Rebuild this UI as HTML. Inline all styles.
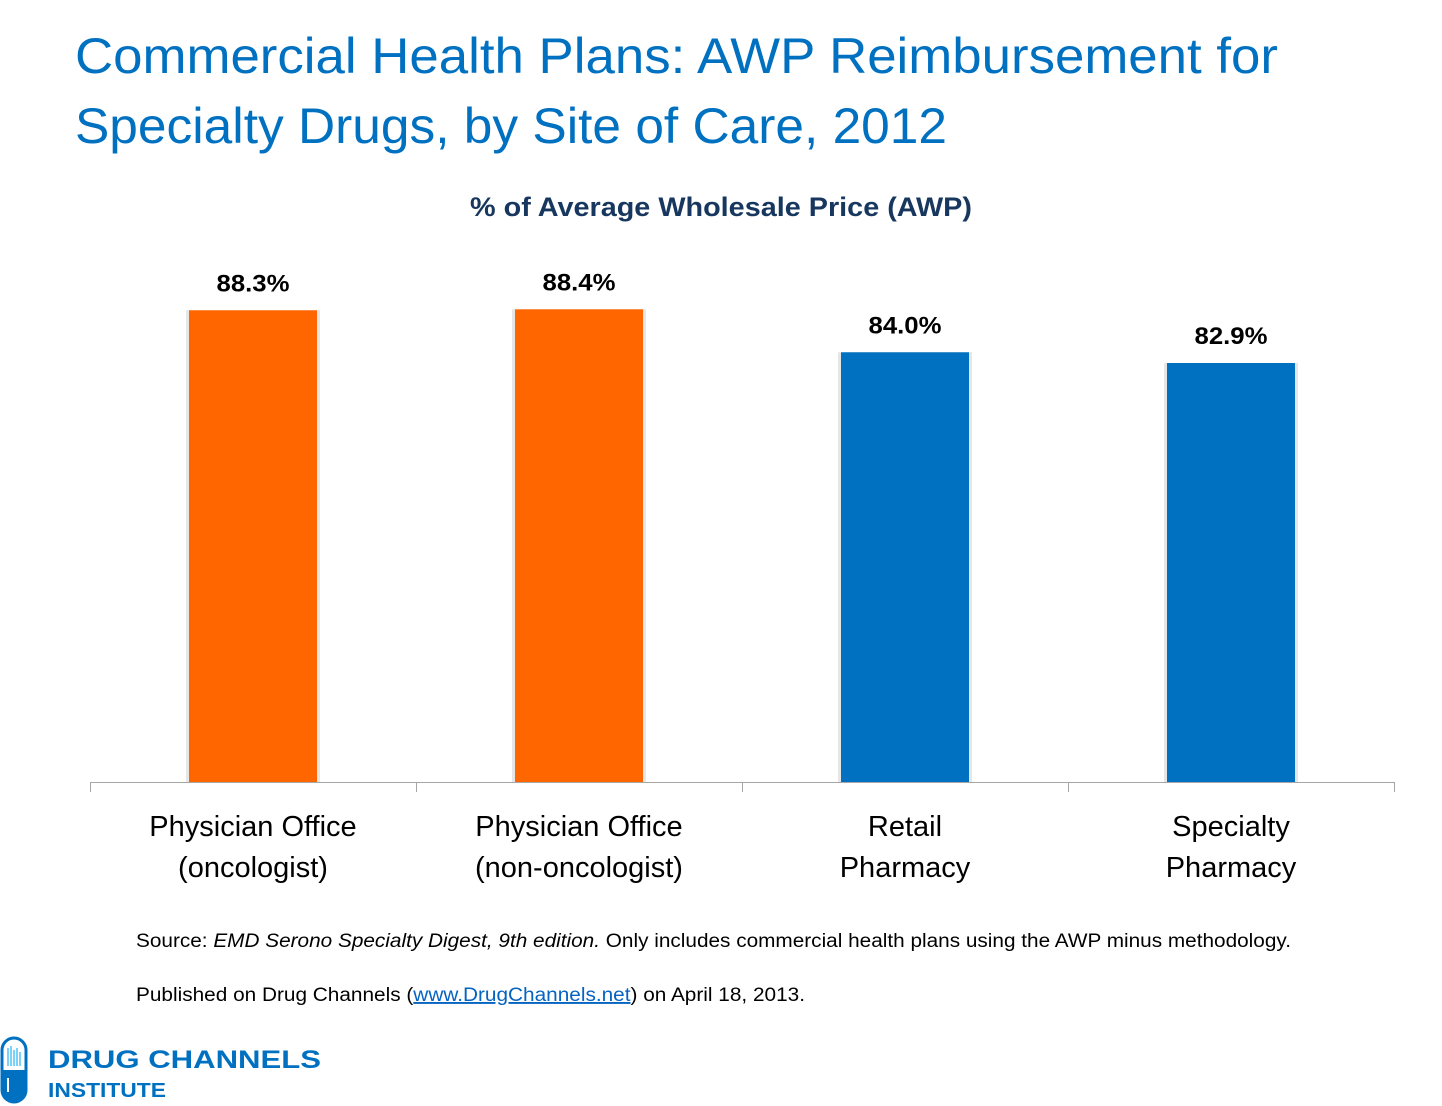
<!DOCTYPE html>
<html><head><meta charset="utf-8"><style>
body{margin:0;background:#fff;}
svg{display:block;font-family:"Liberation Sans",sans-serif;}
</style></head><body>
<svg width="1442" height="1106" viewBox="0 0 1442 1106">
<text x="75" y="73" font-size="50" fill="#0070C0" textLength="1203" lengthAdjust="spacingAndGlyphs">Commercial Health Plans: AWP Reimbursement for</text>
<text x="75" y="143" font-size="50" fill="#0070C0" textLength="872" lengthAdjust="spacingAndGlyphs">Specialty Drugs, by Site of Care, 2012</text>
<text x="721" y="216" font-size="27" font-weight="bold" fill="#17375E" text-anchor="middle" textLength="502" lengthAdjust="spacingAndGlyphs">% of Average Wholesale Price (AWP)</text>
<g id="plot"></g>
<text x="136" y="947" font-size="19" fill="#000" textLength="1155" lengthAdjust="spacingAndGlyphs">Source: <tspan font-style="italic">EMD Serono Specialty Digest, 9th edition.</tspan> Only includes commercial health plans using the AWP minus methodology.</text>
<text x="136" y="1001" font-size="19" fill="#000" textLength="669" lengthAdjust="spacingAndGlyphs">Published on Drug Channels (<tspan fill="#0563C1" text-decoration="underline">www.DrugChannels.net</tspan>) on April 18, 2013.</text>
<g>
<rect x="2" y="1038" width="24" height="64" rx="12" fill="#fff" stroke="#0070C0" stroke-width="3"/>
<path d="M2 1070 H26 V1090 A12 12 0 0 1 2 1090 Z" fill="#0070C0"/>
<line x1="8" y1="1078" x2="8" y2="1092" stroke="#fff" stroke-width="2"/>
<g stroke="#4FC3F7" stroke-width="1.5"><line x1="8" y1="1048" x2="8" y2="1066"/><line x1="11" y1="1046" x2="11" y2="1066"/><line x1="14" y1="1050" x2="14" y2="1066"/><line x1="17" y1="1048" x2="17" y2="1066"/><line x1="20" y1="1052" x2="20" y2="1066"/></g>
<text x="48" y="1068" font-size="25" font-weight="bold" fill="#0070C0" textLength="273" lengthAdjust="spacingAndGlyphs">DRUG CHANNELS</text>
<text x="48" y="1097" font-size="20" font-weight="bold" fill="#0070C0" textLength="118" lengthAdjust="spacingAndGlyphs">INSTITUTE</text>
</g>
</svg>
<script>
const categories1 = ["Physician Office","Physician Office","Retail","Specialty"];
const categories2 = ["(oncologist)","(non-oncologist)","Pharmacy","Pharmacy"];
const values = [88.3, 88.4, 84.0, 82.9];
const valueLabels = ["88.3%","88.4%","84.0%","82.9%"];
const barColors = ["#FF6600","#FF6600","#0070C0","#0070C0"];
const yMin = 40, yMax = 100;
const plotLeft = 90, plotRight = 1394, baseY = 782, topY = 196;
const NS = "http://www.w3.org/2000/svg";
const g = document.getElementById("plot");
const band = (plotRight - plotLeft) / categories1.length;
const xScale = i => plotLeft + band * (i + 0.5);
const yScale = v => baseY - (v - yMin) / (yMax - yMin) * (baseY - topY);
function mk(tag, attrs){const e=document.createElementNS(NS,tag);for(const k in attrs)e.setAttribute(k,attrs[k]);g.appendChild(e);return e;}
const barW = 130;
values.forEach((v,i)=>{
  const cx = xScale(i), y = yScale(v);
  const sh = mk("rect",{x:cx-barW/2-2,y:y,width:barW+4,height:baseY-y,fill:"#e6e6e6"});
  
  
  const r = mk("rect",{x:cx-barW/2+1,y:y,width:barW-2,height:baseY-y,fill:barColors[i]});
  
  
  const t = mk("text",{x:cx,y:y-19,"font-size":24,"font-weight":"bold","text-anchor":"middle",fill:"#000",textLength:73,lengthAdjust:"spacingAndGlyphs"});
  t.textContent = valueLabels[i];
  
  
  const c1 = mk("text",{x:cx,y:836,"font-size":29,"text-anchor":"middle",fill:"#000"});
  c1.textContent = categories1[i];
  
  
  const c2 = mk("text",{x:cx,y:877,"font-size":29,"text-anchor":"middle",fill:"#000"});
  c2.textContent = categories2[i];
  
  
});
const ax = mk("line",{x1:plotLeft,y1:baseY+0.5,x2:plotRight,y2:baseY+0.5,stroke:"#a6a6a6","stroke-width":1});


for(let i=0;i<=categories1.length;i++){
  const x = plotLeft + band*i;
  const tk = mk("line",{x1:x+0.5,y1:baseY,x2:x+0.5,y2:baseY+10,stroke:"#a6a6a6","stroke-width":1});
  
  
}
</script>
</body></html>
